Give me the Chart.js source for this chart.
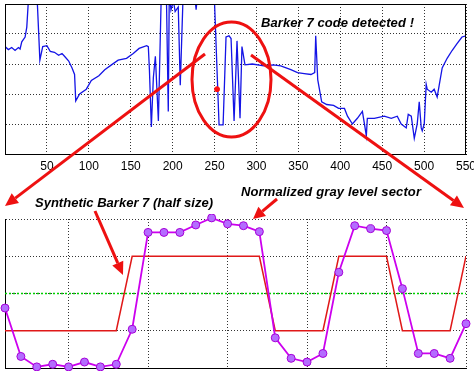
<!DOCTYPE html>
<html>
<head>
<meta charset="UTF-8">
<title>Barker 7 code detection</title>
<script src="https://cdn.jsdelivr.net/npm/chart.js"></script>
<style>
  html, body { margin: 0; padding: 0; background: #fff; overflow: hidden; width: 474px; height: 371px; }
  #wrap { position: relative; width: 474px; height: 371px; overflow: hidden; }
  #topChart { position: absolute; left: 0; top: -1px; }
  #bottomChart { position: absolute; left: 0; top: 214px; }
  #notes { position: absolute; left: 0; top: 0; }
</style>
</head>
<body>
<div id="wrap">
  <canvas id="topChart" width="490" height="185"></canvas>
  <canvas id="bottomChart" width="490" height="160"></canvas>
  <svg id="notes" width="474" height="371" xmlns="http://www.w3.org/2000/svg"></svg>
</div>
<script>
// --- top panel: gray level along the scan line ---
const scanPos = [0, 4, 8, 12, 16, 18, 20, 24, 26, 28.5, 38, 41.6, 45, 50, 54, 59, 64, 68, 71, 76,
  80, 83, 84.4, 89, 97, 103, 112, 119, 127, 135, 145, 153, 160, 169, 171, 172.3, 174.6, 177, 179.4, 183,
  186.5, 192.5, 194.8, 196, 198, 201, 203, 206.7, 209.1, 212.6, 226, 228, 230, 249.5, 255.4, 260.2, 263.7, 267.3, 269.7, 273.3,
  276.8, 280.4, 282.7, 286.3, 295, 309, 320, 329, 341, 349, 357, 365, 369.5, 370.7, 373.1, 377.8, 383.8, 392, 398, 405,
  408.6, 414.5, 420.4, 426.4, 431.1, 432.3, 440.6, 452.5, 460.8, 468, 472.7, 478.7, 481.1, 484.7, 488.3, 491.8, 494.2, 496.6, 497.8, 500.2,
  502.5, 503.7, 508.5, 512, 515.6, 518, 521.6, 527.5, 533.4, 539.3, 545.2, 550];
const grayProfile = [3.58, 3.48, 3.55, 3.45, 3.55, 3.50, 3.74, 3.90, 4.23, 5.4, 5.4, 3.13, 3.58, 3.61, 3.42, 3.39, 3.29, 3.35, 3.26, 3.10,
  2.87, 2.65, 1.77, 2.00, 2.16, 2.45, 2.61, 2.81, 2.97, 3.13, 3.19, 3.35, 3.52, 3.61, 3.58, 2.81, 0.90, 2.55, 3.26, 1.10,
  5.4, 5.4, 1.42, 5.4, 4.80, 5.10, 4.75, 4.90, 2.29, 5.4, 5.4, 4.81, 5.4, 5.4, 0.97, 0.97, 3.90, 3.94, 3.85, 1.10,
  3.77, 1.19, 3.58, 2.97, 3.00, 2.94, 2.97, 2.94, 2.81, 2.71, 2.68, 2.65, 2.71, 3.94, 2.48, 1.74, 1.65, 1.62, 1.52, 1.52,
  1.26, 1.00, 1.19, 1.42, 0.61, 1.19, 1.19, 1.26, 1.19, 1.26, 1.00, 0.87, 1.32, 1.26, 0.52, 1.00, 1.74, 0.87, 0.77, 1.00,
  2.32, 2.16, 2.06, 2.16, 1.90, 2.29, 2.87, 3.19, 3.45, 3.68, 3.90, 3.94];
const topTicks = [50, 100, 150, 200, 250, 300, 350, 400, 450, 500, 550];
const detectPos = [253];
const detectLevel = [2.16];

// --- bottom panel: zoomed sector vs synthetic Barker 7 ---
const sampleIdx = [1, 2, 3, 4, 5, 6, 7, 8, 9, 10, 11, 12, 13, 14, 15, 16, 17, 18, 19, 20, 21, 22, 23, 24, 25, 26, 27, 28, 29, 30];
const sectorLevel = [1.61, 0.31, 0.03, 0.10, 0.03, 0.16, 0.03, 0.10, 1.04, 3.64, 3.64, 3.64, 3.84, 4.03, 3.87,
  3.82, 3.66, 0.81, 0.26, 0.16, 0.39, 2.57, 3.82, 3.74, 3.69, 2.13, 0.39, 0.39, 0.26, 1.19];
const barkerHalf = [1, 1, 1, 1, 1, 1, 1, 1, 3, 3, 3, 3, 3, 3, 3, 3, 3, 1, 1, 1, 1, 3, 3, 3, 3, 1, 1, 1, 1, 3];
const thresholdIdx = [1, 30];
const thresholdLevel = [2, 2];
const bottomTicks = [5, 10, 15, 20, 25, 30];

const pts = (xs, ys) => xs.map((x, i) => ({ x: x, y: ys[i] }));

Chart.defaults.font.family = "'Liberation Sans', Arial, sans-serif";
Chart.defaults.color = '#000';

// solid frame round the top plot
const boxPlugin = {
  id: 'box',
  afterDraw(c) {
    const a = c.chartArea, ctx = c.ctx;
    ctx.save();
    ctx.strokeStyle = '#000';
    ctx.lineWidth = 1;
    ctx.strokeRect(a.left + 0.5, a.top + 0.5, a.right - a.left - 1, a.bottom - a.top);
    ctx.restore();
  }
};

const dotted = { display: true, color: '#000', width: 1, dash: [1, 2] };

new Chart(document.getElementById('topChart'), {
  type: 'line',
  data: {
    datasets: [
      { data: pts(detectPos, detectLevel), showLine: false, pointStyle: 'circle', pointRadius: 2.5,
        pointBackgroundColor: '#ff1010', pointBorderColor: '#ff1010' },
      { data: pts(scanPos, grayProfile), borderColor: '#1414e6', borderWidth: 1.3, pointRadius: 0, tension: 0 }
    ]
  },
  options: {
    responsive: false, animation: false, devicePixelRatio: 1,
    layout: { padding: { left: 0, right: 24, top: 0, bottom: 0 } },
    plugins: { legend: { display: false }, tooltip: { enabled: false } },
    scales: {
      x: {
        type: 'linear', min: 0, max: 550,
        afterBuildTicks: s => { s.ticks = topTicks.map(v => ({ value: v })); },
        afterFit: s => { s.height = 30; },
        grid: { color: '#333', drawTicks: false },
        border: dotted,
        ticks: { padding: 5, font: { size: 12 }, maxRotation: 0, autoSkip: false }
      },
      y: {
        min: 0, max: 5,
        afterFit: s => { s.width = 3; },
        grid: { color: '#333', drawTicks: false },
        border: dotted,
        ticks: { display: false, stepSize: 1 }
      }
    }
  },
  plugins: [boxPlugin]
});

new Chart(document.getElementById('bottomChart'), {
  type: 'line',
  data: {
    datasets: [
      { data: pts(sampleIdx, sectorLevel), borderColor: '#cc00ee', borderWidth: 1.8, pointRadius: 4,
        pointBackgroundColor: '#b46cff', pointBorderColor: '#a600d8', pointBorderWidth: 1, clip: false, tension: 0 },
      { data: pts(sampleIdx, barkerHalf), borderColor: '#e01818', borderWidth: 1.5, pointRadius: 0, tension: 0 },
      { data: pts(thresholdIdx, thresholdLevel), borderColor: '#00d000', borderWidth: 1.5, borderDash: [2, 2], pointRadius: 0 }
    ]
  },
  options: {
    responsive: false, animation: false, devicePixelRatio: 1,
    layout: { padding: { left: 0, right: 24, top: 0, bottom: 0 } },
    plugins: { legend: { display: false }, tooltip: { enabled: false } },
    scales: {
      x: {
        type: 'linear', min: 1, max: 30,
        afterBuildTicks: s => { s.ticks = bottomTicks.map(v => ({ value: v })); },
        afterFit: s => { s.height = 6; },
        grid: { color: '#333', drawTicks: false },
        border: dotted,
        ticks: { display: false }
      },
      y: {
        min: 0, max: 4,
        afterFit: s => { s.width = 3; },
        grid: { color: '#333', drawTicks: false },
        border: dotted,
        ticks: { display: false, stepSize: 1 }
      }
    }
  }
});

// annotations: ellipse, arrows and captions
const NS = 'http://www.w3.org/2000/svg';
const svg = document.getElementById('notes');
function el(tag, attrs, text) {
  const e = document.createElementNS(NS, tag);
  for (const k in attrs) e.setAttribute(k, attrs[k]);
  if (text) e.textContent = text;
  svg.appendChild(e);
  return e;
}
function arrow(x1, y1, x2, y2, head, half) {
  const dx = x2 - x1, dy = y2 - y1, L = Math.hypot(dx, dy), ux = dx / L, uy = dy / L;
  const bx = x2 - ux * head, by = y2 - uy * head;
  el('line', { x1: x1, y1: y1, x2: bx, y2: by, stroke: '#ee1111', 'stroke-width': 3 });
  el('polygon', { points: [x2, y2, bx - uy * half, by + ux * half, bx + uy * half, by - ux * half].join(' '), fill: '#ee1111' });
}
el('ellipse', { cx: 231.5, cy: 79.5, rx: 39.5, ry: 57.5, fill: 'none', stroke: '#ee1111', 'stroke-width': 3 });
arrow(205, 54, 5, 206, 13, 6);
arrow(251, 55, 464, 208, 13, 6);
arrow(95, 211, 123, 275, 13, 6);
arrow(277, 199, 253, 219, 12, 6);

const cap = { 'font-family': "'Liberation Sans', Arial, sans-serif", 'font-size': 13, 'font-weight': 'bold',
  'font-style': 'italic', fill: '#000', lengthAdjust: 'spacing' };
el('text', Object.assign({ x: 261, y: 26.5, textLength: 153 }, cap), 'Barker 7 code detected !');
el('text', Object.assign({ x: 35, y: 206.5, textLength: 178 }, cap), 'Synthetic Barker 7 (half size)');
el('text', Object.assign({ x: 241, y: 196, textLength: 180 }, cap), 'Normalized gray level sector');
</script>
</body>
</html>
